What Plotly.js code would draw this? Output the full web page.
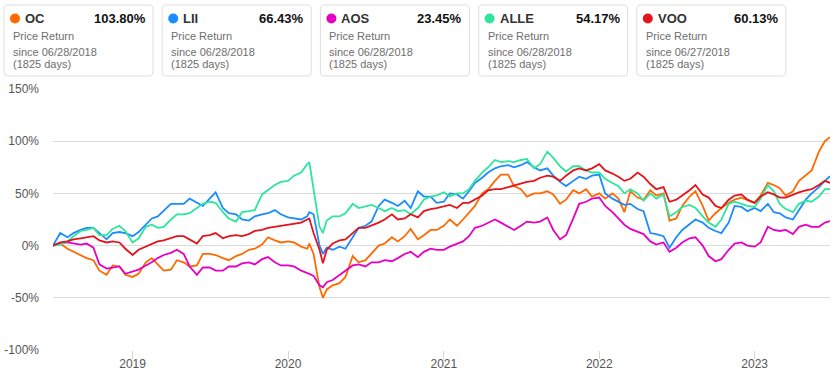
<!DOCTYPE html>
<html>
<head>
<meta charset="utf-8">
<script src="https://cdn.plot.ly/plotly-3.0.1.min.js"></script>
<style>html,body{margin:0;padding:0;background:#fff;}#chart{width:833px;height:376px;}</style>
</head>
<body>
<div id="chart"></div>
<script>
// ---- data ----
const dates = [
'2018-06-28','2018-07-15','2018-08-01','2018-08-15','2018-09-01','2018-09-15','2018-10-01','2018-10-15','2018-11-01','2018-11-15','2018-12-01','2018-12-15',
'2019-01-01','2019-01-15','2019-02-01','2019-02-15','2019-03-01','2019-03-15','2019-04-01','2019-04-15','2019-05-01','2019-05-15','2019-06-01','2019-06-15',
'2019-07-01','2019-07-15','2019-08-01','2019-08-15','2019-09-01','2019-09-15','2019-10-01','2019-10-15','2019-11-01','2019-11-15','2019-12-01','2019-12-15',
'2020-01-01','2020-01-15','2020-02-01','2020-02-15','2020-02-20','2020-03-01','2020-03-15','2020-03-23','2020-04-01','2020-04-15','2020-05-01','2020-05-15','2020-06-01','2020-06-15',
'2020-07-01','2020-07-15','2020-08-01','2020-08-15','2020-09-01','2020-09-15','2020-10-01','2020-10-15','2020-11-01','2020-11-15','2020-12-01','2020-12-15',
'2021-01-01','2021-01-15','2021-02-01','2021-02-15','2021-03-01','2021-03-15','2021-04-01','2021-04-15','2021-05-01','2021-05-15','2021-06-01','2021-06-15',
'2021-07-01','2021-07-15','2021-08-01','2021-08-15','2021-09-01','2021-09-15','2021-10-01','2021-10-15','2021-11-01','2021-11-15','2021-12-01','2021-12-15',
'2022-01-01','2022-01-15','2022-02-01','2022-02-15','2022-03-01','2022-03-15','2022-04-01','2022-04-15','2022-05-01','2022-05-15','2022-06-01','2022-06-15',
'2022-07-01','2022-07-15','2022-08-01','2022-08-15','2022-09-01','2022-09-15','2022-10-01','2022-10-15','2022-11-01','2022-11-15','2022-12-01','2022-12-15',
'2023-01-01','2023-01-15','2023-02-01','2023-02-15','2023-03-01','2023-03-15','2023-04-01','2023-04-15','2023-05-01','2023-05-15','2023-06-01','2023-06-15','2023-06-27'
];

const OC = [
0,2,-3,-6,-9,-12,-14,-24,-28,-19,-20,-28,
-30,-27,-16,-12,-18,-24,-23,-14,-16,-20,-19,-8, -8,-9,-12,-14,-10,-8,-4,-3,1,8,5,3,
4,3,-1,-3,2,-8,-40,-50,-42,-38,-36,-30,-10,-16, -14,-8,0,2,8,4,9,16,6,10,15,15,
19,25,19,25,31,38,50,54,62,68,68,57, 54,47,50,50,52,49,40,44,53,50,54,47,
50,45,50,45,32,52,46,44,53,48,50,24, 26,38,47,52,38,24,31,36,41,44,46,44,
41,48,60,58,55,48,52,62,67,72,90,100,103.8
];
const LII = [
0,12,8,12,15,17,17,12,6,12,13,12,
9,13,20,26,28,33,40,40,40,45,41,38, 45,51,36,31,30,25,24,28,30,31,34,30,
27,26,25,28,32,30,0,-8,-2,-4,-1,-3,8,17, 19,23,38,44,41,38,43,36,52,47,47,41,
42,50,49,45,52,60,65,70,74,76,77,75, 77,80,75,72,74,67,61,57,62,66,64,67,
68,50,45,42,39,40,35,33,12,11,9,-2, 8,15,20,25,22,17,14,12,22,38,37,33,
36,33,40,32,31,27,25,34,44,50,56,62,66.43
];
const AOS = [
0,2,3,2,1,2,-2,-18,-22,-21,-20,-27,
-25,-23,-19,-16,-12,-9,-7,-4,-8,-20,-28,-21, -21,-24,-24,-20,-20,-17,-16,-18,-13,-11,-16,-19,
-19,-20,-24,-26,-27,-29,-38,-40,-35,-33,-28,-24,-19,-18, -20,-16,-16,-14,-15,-12,-8,-6,-11,-6,-3,-4,
-4,-1,2,4,9,17,19,22,25,22,18,15, 19,23,22,23,27,15,6,10,26,40,42,45,
46,38,32,26,20,16,13,11,4,1,3,-6, -2,3,7,8,0,-10,-15,-13,-4,2,3,0,
-1,3,18,15,14,15,11,18,20,18,18,22,23.45
];
const ALLE = [
0,1,4,9,14,15,17,10,10,16,19,14,
3,7,18,20,17,18,25,30,30,31,36,40, 42,41,32,26,23,32,33,34,49,53,58,61,
62,67,70,78,80,54,18,12,24,28,28,31,40,36, 38,39,36,33,36,33,34,30,36,44,47,48,
51,47,50,50,54,62,70,75,82,80,81,80, 82,83,74,78,90,84,76,71,76,76,72,70,
70,64,60,57,50,54,50,43,50,45,49,28, 32,37,39,36,28,22,18,25,40,42,40,38,
37,45,58,52,40,35,32,40,43,42,47,54,54.17
];
const VOO = [
0,3,4,6,7,8,9,5,3,4,3,-3,
-9,-4,-1,2,4,5,7,9,9,6,2,9, 10,12,7,9,10,9,11,14,15,17,18,19,
20,21,22,25,26,12,-4,-17,-4,2,5,6,12,17, 17,19,22,25,30,25,26,30,27,33,35,36,
38,39,36,41,41,44,48,53,54,54,56,57, 59,61,62,65,67,66,62,67,72,74,72,74,
78,72,69,66,62,64,70,66,59,54,56,42, 44,48,53,58,49,46,38,36,44,48,49,44,
41,47,51,49,46,46,49,51,53,54,58,62,60.13
];

const tickers = ['OC','LII','AOS','ALLE','VOO'];
const colors  = ['#ff6a00','#1a8cff','#e600c3','#2ee59d','#e3141b'];
const totals  = ['103.80%','66.43%','23.45%','54.17%','60.13%'];
const since   = ['06/28/2018','06/28/2018','06/28/2018','06/28/2018','06/27/2018'];
const series  = [OC, LII, AOS, ALLE, VOO];
const yearTicks = ['2019-01-01','2020-01-01','2021-01-01','2022-01-01','2023-01-01'];
const yearLabels = ['2019','2020','2021','2022','2023'];

// ---- layout helpers (pixel -> paper) ----
const W = 833, H = 376, M = {l:53, r:3, t:89, b:26};
const PW = W - M.l - M.r, PH = H - M.t - M.b;
const px = x => (x - M.l) / PW;
const py = y => (H - M.b - y) / PH;

function rrect(x0, y0, x1, y1, r) {
  const f = (a,b) => px(a).toFixed(5) + ',' + py(b).toFixed(5);
  return 'M' + f(x0+r,y0) + ' L' + f(x1-r,y0) + ' Q' + f(x1,y0) + ' ' + f(x1,y0+r) +
         ' L' + f(x1,y1-r) + ' Q' + f(x1,y1) + ' ' + f(x1-r,y1) +
         ' L' + f(x0+r,y1) + ' Q' + f(x0,y1) + ' ' + f(x0,y1-r) +
         ' L' + f(x0,y0+r) + ' Q' + f(x0,y0) + ' ' + f(x0+r,y0) + ' Z';
}

const FONT = 'Liberation Sans, Arial, Helvetica, sans-serif';
const shapes = [], annotations = [];
tickers.forEach((t, i) => {
  const L = 4 + i * 158.2, R = L + 149, T = 5, B = 76;
  shapes.push({type:'path', xref:'paper', yref:'paper', path: rrect(L, T, R, B, 4),
    line:{color:'#dedede', width:1}, fillcolor:'#ffffff', layer:'above'});
  shapes.push({type:'circle', xref:'paper', yref:'paper',
    x0: px(L+6), x1: px(L+16), y0: py(23.5), y1: py(13.5),
    line:{width:0}, fillcolor: colors[i], layer:'above'});
  const base = {xref:'paper', yref:'paper', showarrow:false, yanchor:'middle', borderpad:0};
  annotations.push(Object.assign({}, base, {x:px(L+20), y:py(18.5), xanchor:'left',
    text:'<b>'+t+'</b>', font:{family:FONT, size:13, color:'#333'}}));
  annotations.push(Object.assign({}, base, {x:px(L+143), y:py(18.5), xanchor:'right',
    text:'<b>'+totals[i]+'</b>', font:{family:FONT, size:13, color:'#111'}}));
  annotations.push(Object.assign({}, base, {x:px(L+8), y:py(36), xanchor:'left',
    text:'Price Return', font:{family:FONT, size:11, color:'#6e6e6e'}}));
  annotations.push(Object.assign({}, base, {x:px(L+8), y:py(52.5), xanchor:'left',
    text:'since '+since[i], font:{family:FONT, size:11, color:'#6e6e6e'}}));
  annotations.push(Object.assign({}, base, {x:px(L+8), y:py(63.5), xanchor:'left',
    text:'(1825 days)', font:{family:FONT, size:11, color:'#6e6e6e'}}));
});

const traces = series.map((s, i) => ({
  x: dates, y: s, type:'scatter', mode:'lines', name: tickers[i],
  line:{color: colors[i], width:1.8}, hoverinfo:'skip'
}));

const layout = {
  width: W, height: H,
  margin: {l:M.l, r:M.r, t:M.t, b:M.b, pad:0},
  paper_bgcolor:'#ffffff', plot_bgcolor:'#ffffff',
  showlegend:false,
  font:{family:FONT, size:12, color:'#555'},
  xaxis: {type:'date', range:['2018-06-28','2023-06-27'],
    tickvals: yearTicks, ticktext: yearLabels,
    showgrid:false, zeroline:false, showline:false,
    ticks:'outside', ticklen:8, tickcolor:'#d6d6d6', tickwidth:1,
    ticklabelstandoff:-5,
    tickfont:{family:FONT, size:12, color:'#555'}},
  yaxis: {range:[-100,150], tickvals:[-100,-50,0,50,100,150],
    ticktext:['-100%','-50%','0%','50%','100%','150%'],
    showgrid:true, gridcolor:'#dcdcdc', gridwidth:1, zeroline:false, showline:false,
    ticks:'', ticklabelstandoff:13,
    tickfont:{family:FONT, size:12, color:'#555'}},
  shapes: shapes,
  annotations: annotations
};

Plotly.newPlot('chart', traces, layout, {staticPlot:true, displayModeBar:false});
</script>
</body>
</html>
